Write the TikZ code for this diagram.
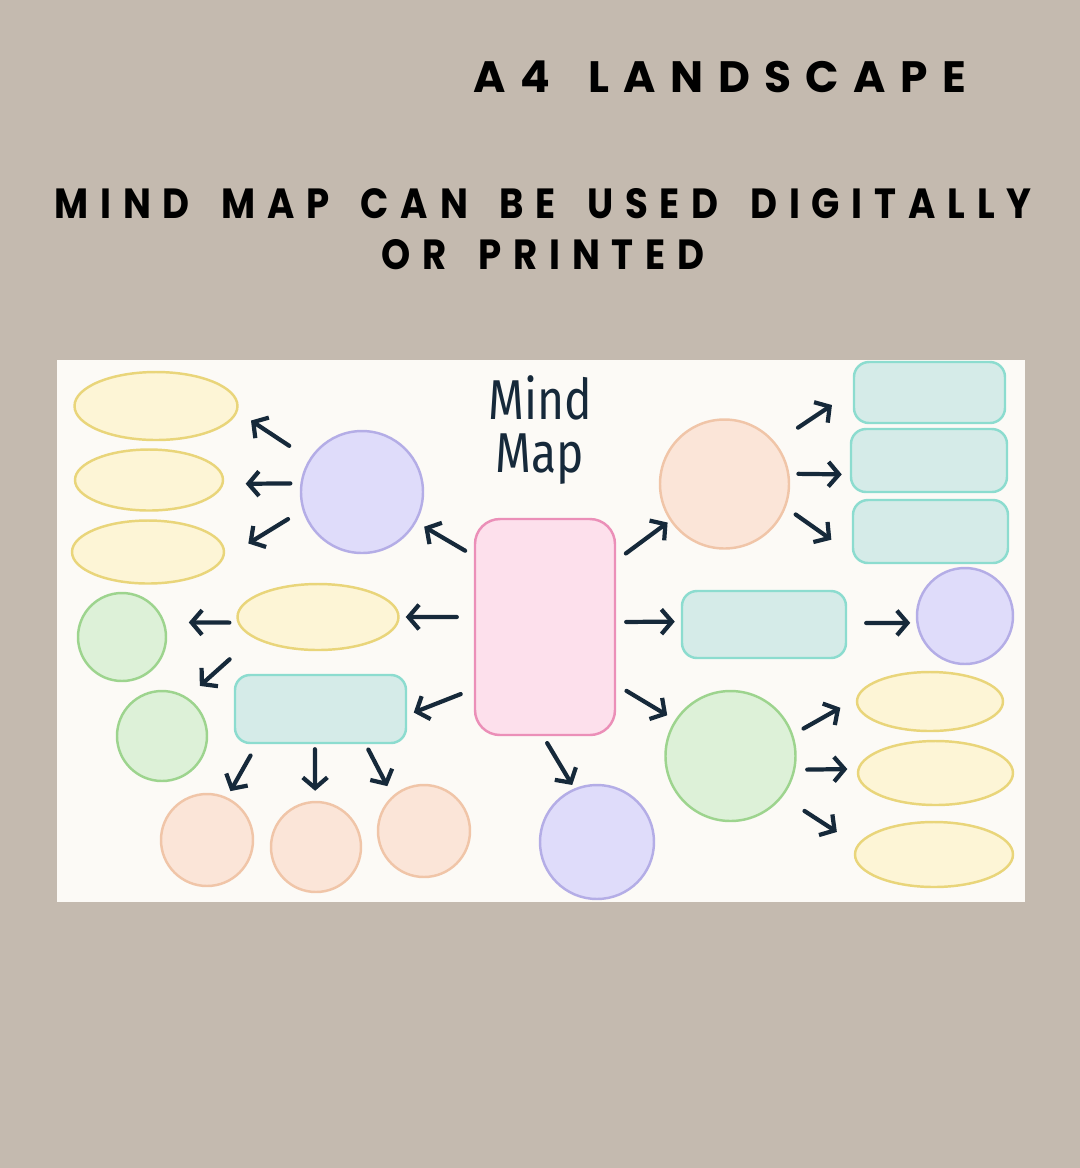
\documentclass[tikz,border=0pt]{standalone}
\usepackage{fontspec}
\usetikzlibrary{shapes.geometric, arrows.meta}
\newfontfamily\headfont[LetterSpace=33, WordSpace=1.6]{Poppins}
\newfontfamily\subfont[LetterSpace=28, WordSpace=1.6, FakeStretch=0.88]{Poppins}
\newfontfamily\handfont[FakeStretch=0.82]{Fira Sans}
\definecolor{wall}{HTML}{C4BAAF}
\definecolor{paper}{HTML}{FCFAF6}
\definecolor{ink}{HTML}{16293A}
\definecolor{yellowfill}{HTML}{FDF5D6}
\definecolor{yellowline}{HTML}{E9D57A}
\definecolor{purplefill}{HTML}{DFDCFA}
\definecolor{purpleline}{HTML}{B4ADE6}
\definecolor{greenfill}{HTML}{DDF1D8}
\definecolor{greenline}{HTML}{9DD48E}
\definecolor{peachfill}{HTML}{FBE5D8}
\definecolor{peachline}{HTML}{F0C5A8}
\definecolor{tealfill}{HTML}{D5EBE8}
\definecolor{tealline}{HTML}{8CDCCF}
\definecolor{pinkfill}{HTML}{FDE0EC}
\definecolor{pinkline}{HTML}{EB8FB8}

\begin{document}
\begin{tikzpicture}
	\tikzstyle{egg}=[ellipse, draw=yellowline, fill=yellowfill, line width=0.7pt, inner sep=0pt]
	\tikzstyle{lilac}=[circle, draw=purpleline, fill=purplefill, line width=0.7pt, inner sep=0pt]
	\tikzstyle{mint}=[circle, draw=greenline, fill=greenfill, line width=0.7pt, inner sep=0pt]
	\tikzstyle{peach}=[circle, draw=peachline, fill=peachfill, line width=0.7pt, inner sep=0pt]
	\tikzstyle{tealbox}=[rectangle, draw=tealline, fill=tealfill, line width=0.7pt, rounded corners=0.15cm, inner sep=0pt]
	\tikzstyle{pointer}=[ink, line width=1.2pt, line cap=round, -{Straight Barb[length=3pt, width=7pt]}]

	\useasboundingbox (0,0) rectangle (10.8,-11.68);
	\fill[wall] (0,0) rectangle (10.8,-11.68);
	\fill[paper] (0.57,-3.60) rectangle (10.25,-9.02);

	\node[font=\headfont\bfseries\fontsize{12.5}{15}\selectfont] at (7.2,-0.77) (title) {A4 LANDSCAPE};
	\node[font=\subfont\bfseries\fontsize{12}{14.5}\selectfont, align=center] at (5.43,-2.29) (subtitle) {MIND MAP CAN BE USED DIGITALLY\\OR PRINTED};
	\node[font=\handfont\fontsize{16}{15}\selectfont, text=ink, align=center] at (5.40,-4.30) (heading) {Mind\\Map};

	% centre
	\node[rectangle, draw=pinkline, fill=pinkfill, line width=0.7pt, rounded corners=0.25cm,
	minimum width=1.4cm, minimum height=2.16cm] at (5.45,-6.27) (hub) {};

	% left branch
	\node[lilac, minimum size=1.22cm] at (3.62,-4.92) (p1) {};
	\node[egg, minimum width=1.63cm, minimum height=0.68cm] at (1.56,-4.06) (y1) {};
	\node[egg, minimum width=1.48cm, minimum height=0.61cm] at (1.49,-4.80) (y2) {};
	\node[egg, minimum width=1.52cm, minimum height=0.63cm] at (1.48,-5.52) (y3) {};
	\node[egg, minimum width=1.61cm, minimum height=0.66cm] at (3.18,-6.17) (y4) {};
	\node[mint, minimum size=0.88cm] at (1.22,-6.37) (g1) {};
	\node[mint, minimum size=0.90cm] at (1.62,-7.36) (g2) {};
	\node[tealbox, minimum width=1.71cm, minimum height=0.68cm] at (3.205,-7.09) (t1) {};
	\node[peach, minimum size=0.92cm] at (2.07,-8.40) (o1) {};
	\node[peach, minimum size=0.90cm] at (3.16,-8.47) (o2) {};
	\node[peach, minimum size=0.92cm] at (4.24,-8.31) (o3) {};

	% right branch
	\node[peach, minimum size=1.29cm] at (7.245,-4.84) (or1) {};
	\node[tealbox, minimum width=1.51cm, minimum height=0.61cm] at (9.295,-3.925) (tr1) {};
	\node[tealbox, minimum width=1.56cm, minimum height=0.63cm] at (9.29,-4.605) (tr2) {};
	\node[tealbox, minimum width=1.55cm, minimum height=0.63cm] at (9.305,-5.315) (tr3) {};
	\node[tealbox, minimum width=1.64cm, minimum height=0.67cm] at (7.64,-6.245) (tm) {};
	\node[lilac, minimum size=0.96cm] at (9.65,-6.16) (p3) {};
	\node[mint, minimum size=1.30cm] at (7.305,-7.56) (g3) {};
	\node[egg, minimum width=1.46cm, minimum height=0.59cm] at (9.30,-7.015) (yr1) {};
	\node[egg, minimum width=1.55cm, minimum height=0.64cm] at (9.355,-7.73) (yr2) {};
	\node[egg, minimum width=1.58cm, minimum height=0.65cm] at (9.34,-8.545) (yr3) {};
	\node[lilac, minimum size=1.14cm] at (5.97,-8.42) (p2) {};

	% arrows out of the centre
	\draw[pointer, shorten <=0.10cm, shorten >=0.09cm] (hub.135) -- (p1.-29);
	\draw[pointer, shorten <=0.17cm, shorten >=0.06cm] (hub.172) -- (y4.0);
	\draw[pointer, shorten <=0.14cm, shorten >=0.07cm] (hub.221) -- (t1.-4);
	\draw[pointer, shorten <=0.12cm, shorten >=0.03cm] (hub.43) -- (or1.214);
	\draw[pointer, shorten <=0.10cm, shorten >=0.06cm] (hub.4) -- (tm.178);
	\draw[pointer, shorten <=0.12cm, shorten >=0.09cm] (hub.-39) -- (g3.147);
	\draw[pointer, shorten <=0.08cm, shorten >=0.04cm] (hub.269) -- (p2.113);

	% left side
	\draw[pointer, shorten <=0.24cm, shorten >=0.16cm] (p1.148) -- (y1.-4);
	\draw[pointer, shorten <=0.10cm, shorten >=0.22cm] (p1.172) -- (y2.-3);
	\draw[pointer, shorten <=0.17cm, shorten >=0.29cm] (p1.197) -- (y3.-5);
	\draw[pointer, shorten <=0.08cm, shorten >=0.24cm] (y4.184) -- (g1.19);
	\draw[pointer, shorten <=0.32cm, shorten >=0.17cm] (y4.198) -- (g2.57);
	\draw[pointer, shorten <=0.13cm, shorten >=0.07cm] (t1.209) -- (o1.65);
	\draw[pointer, shorten <=0.05cm, shorten >=0.10cm] (t1.261) -- (o2.91);
	\draw[pointer, shorten <=0.06cm, shorten >=0.11cm] (t1.-38) -- (o3.132);

	% right side
	\draw[pointer, shorten <=0.27cm, shorten >=0.25cm] (or1.39) -- (tr1.179);
	\draw[pointer, shorten <=0.09cm, shorten >=0.08cm] (or1.9) -- (tr2.190);
	\draw[pointer, shorten <=0.12cm, shorten >=0.25cm] (or1.-21) -- (tr3.196);
	\draw[pointer, shorten <=0.19cm, shorten >=0.06cm] (tm.1) -- (p3.188);
	\draw[pointer, shorten <=0.12cm, shorten >=0.18cm] (g3.19) -- (yr1.178);
	\draw[pointer, shorten <=0.12cm, shorten >=0.10cm] (g3.-12) -- (yr2.177);
	\draw[pointer, shorten <=0.26cm, shorten >=0.24cm] (g3.-38) -- (yr3.173);
\end{tikzpicture}
\end{document}
